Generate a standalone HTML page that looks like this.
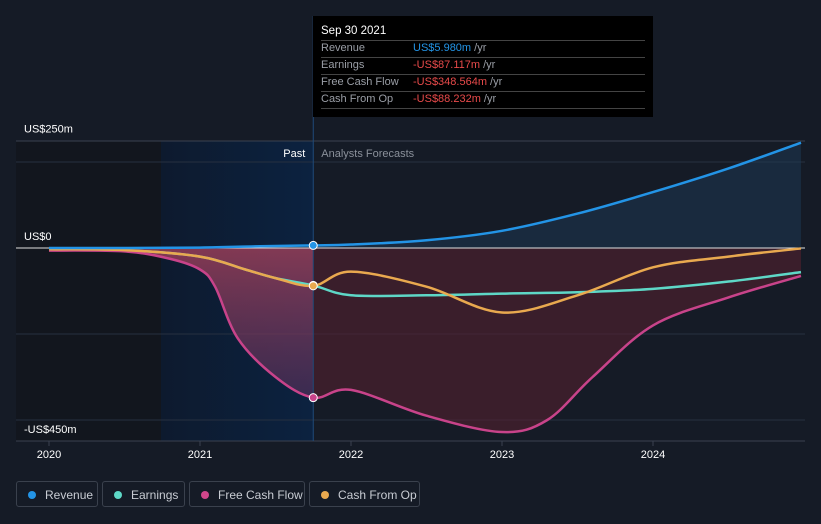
<!DOCTYPE html>
<html><head><meta charset="utf-8"><style>
body{margin:0;background:#151b26;font-family:"Liberation Sans",sans-serif;}
svg{display:block}
.lg{position:absolute;top:481px;height:26px;border:1px solid #3a414d;border-radius:3px;color:#c8ccd3;font-size:12px;line-height:26px;box-sizing:border-box;padding-left:28px}
.lg i{position:absolute;left:11px;top:9px;width:8px;height:8px;border-radius:50%}
</style></head><body>
<div style="position:relative;width:821px;height:524px;overflow:hidden">
<svg id="c" width="821" height="524"></svg>
<div class="lg" style="left:16px;width:82px"><i style="background:#2394e6"></i>Revenue</div>
<div class="lg" style="left:102px;width:83px"><i style="background:#5ed8c7"></i>Earnings</div>
<div class="lg" style="left:189px;width:116px"><i style="background:#d0468b"></i>Free Cash Flow</div>
<div class="lg" style="left:309px;width:111px"><i style="background:#e9a94f"></i>Cash From Op</div>
<div style="position:absolute;left:313px;top:16px;width:340px;height:101px;background:#000;font-size:11px;color:#9a9ea6">
<div style="position:absolute;left:8px;top:9px;color:#fff;font-size:11.5px">Sep 30 2021</div>
<div style="position:absolute;left:8px;right:8px;top:24px;border-top:1px solid #444"></div>
<div style="position:absolute;left:8px;top:26px">Revenue</div><div style="position:absolute;left:100px;top:26px"><span style="color:#2394e6">US$5.980m</span> /yr</div>
<div style="position:absolute;left:8px;right:8px;top:41px;border-top:1px solid #444"></div>
<div style="position:absolute;left:8px;top:43px">Earnings</div><div style="position:absolute;left:100px;top:43px"><span style="color:#e84a4a">-US$87.117m</span> /yr</div>
<div style="position:absolute;left:8px;right:8px;top:58px;border-top:1px solid #444"></div>
<div style="position:absolute;left:8px;top:60px">Free Cash Flow</div><div style="position:absolute;left:100px;top:60px"><span style="color:#e84a4a">-US$348.564m</span> /yr</div>
<div style="position:absolute;left:8px;right:8px;top:75px;border-top:1px solid #444"></div>
<div style="position:absolute;left:8px;top:77px">Cash From Op</div><div style="position:absolute;left:100px;top:77px"><span style="color:#e84a4a">-US$88.232m</span> /yr</div>
<div style="position:absolute;left:8px;right:8px;top:92px;border-top:1px solid #444"></div>
</div>
</div>
<script>
const revX=[2020,2020.5,2021,2021.4,2021.75,2022,2022.5,2023,2023.5,2024,2024.5,2024.98];
const revV=[0,0,1,4,6,8,18,40,80,130,185,245];
const earnX=[2020,2020.5,2021,2021.3,2021.5,2021.75,2022,2022.5,2023,2023.5,2024,2024.5,2024.98];
const earnV=[-3,-5,-20,-50,-70,-87,-110,-110,-106,-103,-95,-78,-56];
const fcfX=[2020,2020.5,2020.8,2021,2021.1,2021.25,2021.5,2021.75,2022,2022.5,2023,2023.3,2023.6,2024,2024.5,2024.98];
const fcfV=[-6,-8,-25,-50,-90,-210,-300,-348,-330,-390,-428,-400,-300,-180,-115,-65];
const cfoX=[2020,2020.5,2021,2021.3,2021.5,2021.75,2022,2022.5,2023,2023.5,2024,2024.5,2024.98];
const cfoV=[-3,-5,-20,-50,-70,-88,-55,-90,-150,-110,-45,-20,-1];
const yTicks=[250,0,-450];const yLabels=["US$250m","US$0","-US$450m"];
const xTicks=[2020,2021,2022,2023,2024];
const X=t=>49+(t-2020)*151, Y=v=>248-v*0.43;
const NOW=2021.75;
const svg=document.getElementById('c');const NS='http://www.w3.org/2000/svg';
function el(tag,attrs,parent){const e=document.createElementNS(NS,tag);for(const k in attrs)e.setAttribute(k,attrs[k]);(parent||svg).appendChild(e);return e;}
function pts(xs,vs){return xs.map((x,i)=>[X(x),Y(vs[i])]);}
function smooth(p){let d='M'+p[0][0]+','+p[0][1];for(let i=0;i<p.length-1;i++){const p0=p[i-1]||p[i],p1=p[i],p2=p[i+1],p3=p[i+2]||p2;d+=' C'+(p1[0]+(p2[0]-p0[0])/6)+','+(p1[1]+(p2[1]-p0[1])/6)+' '+(p2[0]-(p3[0]-p1[0])/6)+','+(p2[1]-(p3[1]-p1[1])/6)+' '+p2[0]+','+p2[1];}return d;}
const defs=el('defs',{});
defs.innerHTML='<linearGradient id="past" x1="0" x2="1"><stop offset="0" stop-color="#0d1a2e"/><stop offset="1" stop-color="#0c2240"/></linearGradient><linearGradient id="pf" x1="0" y1="0" x2="0" y2="1"><stop offset="0" stop-color="#a0405a" stop-opacity=".8"/><stop offset="1" stop-color="#503060" stop-opacity=".5"/></linearGradient><clipPath id="cp"><rect x="16" y="0" width="'+(X(NOW)-16)+'" height="524"/></clipPath><clipPath id="cf"><rect x="'+X(NOW)+'" y="0" width="600" height="524"/></clipPath>';
let r=el('rect',{x:16,y:141,width:145,height:300,fill:'#12161e'});
r=el('rect',{x:161,y:141,width:X(NOW)-161,height:300,fill:'url(#past)'});
[200,-200].forEach(v=>{const g=el('line',{x1:16,x2:805,y1:Y(v),y2:Y(v),stroke:'#263040'});});
el('line',{x1:16,x2:805,y1:Y(-400),y2:Y(-400),stroke:'#263040'});
el('line',{x1:16,x2:805,y1:141,y2:141,stroke:'#3a4250'});
el('line',{x1:16,x2:805,y1:441,y2:441,stroke:'#3a4250'});
const fp=pts(fcfX,fcfV);
let a=el('path',{d:smooth(fp)+' L'+X(2024.98)+','+Y(0)+' L'+X(2020)+','+Y(0)+'Z',fill:'url(#pf)','clip-path':'url(#cp)'});
a=el('path',{d:smooth(fp)+' L'+X(2024.98)+','+Y(0)+' L'+X(2020)+','+Y(0)+'Z',fill:'#5a2030',opacity:'.55','clip-path':'url(#cf)'});
const rp=pts(revX,revV);
a=el('path',{d:smooth(rp)+' L'+X(2024.98)+','+Y(0)+' L'+X(2020)+','+Y(0)+'Z',fill:'#1e3a55',opacity:'.5','clip-path':'url(#cf)'});
el('line',{x1:16,x2:805,y1:Y(0),y2:Y(0),stroke:'#e0e0e0','stroke-width':1});
el('line',{x1:X(NOW),x2:X(NOW),y1:16,y2:441,stroke:'#1f4a7a'});
const series=[['earnings',earnX,earnV,'#5ed8c7'],['free-cash-flow',fcfX,fcfV,'#c8438a'],['cash-from-op',cfoX,cfoV,'#e9a94f'],['revenue',revX,revV,'#2394e6']];
series.forEach(s=>{const p=el('path',{d:smooth(pts(s[1],s[2])),fill:'none',stroke:s[3],'stroke-width':2.5});
const i=s[1].indexOf(NOW);const c=el('circle',{cx:X(NOW),cy:Y(s[2][i]),r:4,fill:s[3],stroke:'#fff','stroke-width':1});});
yTicks.forEach((v,i)=>{const t=el('text',{x:24,y:v<-400?433:Y(v)-8,fill:'#fff','font-size':11});t.textContent=yLabels[i];});
xTicks.forEach(v=>{el('line',{x1:X(v),x2:X(v),y1:441,y2:446,stroke:'#3a4250'});const t=el('text',{x:X(v),y:458,fill:'#fff','font-size':11,'text-anchor':'middle'});t.textContent=v;});
let t=el('text',{x:X(NOW)-8,y:157,fill:'#fff','font-size':11,'text-anchor':'end'});t.textContent='Past';
t=el('text',{x:X(NOW)+8,y:157,fill:'#8a909a','font-size':11});t.textContent='Analysts Forecasts';
</script>
</body></html>
